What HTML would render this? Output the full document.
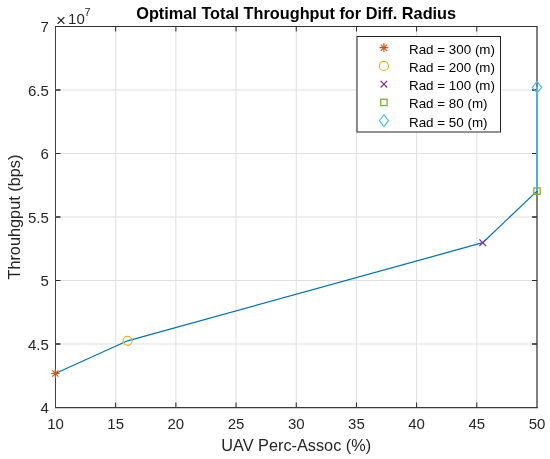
<!DOCTYPE html>
<html><head><meta charset="utf-8"><title>Optimal Total Throughput for Diff. Radius</title>
<style>
html,body{margin:0;padding:0;background:#fff;}
svg{display:block;}
text{font-family:"Liberation Sans",Arial,Helvetica,sans-serif;}
.tk{font-size:15px;fill:#262626;}
.sup{font-size:10.8px;}
.lg{font-size:13.4px;fill:#000;}
.lb{font-size:16.3px;fill:#262626;}
.tt{font-size:16.3px;font-weight:bold;fill:#000;}
</style></head>
<body>
<svg width="550" height="459" viewBox="0 0 550 459">
<rect width="550" height="459" fill="#fff"/>
<line x1="115.69" y1="26.5" x2="115.69" y2="407.5" stroke="#dfdfdf" stroke-width="1"/>
<line x1="175.88" y1="26.5" x2="175.88" y2="407.5" stroke="#dfdfdf" stroke-width="1"/>
<line x1="236.06" y1="26.5" x2="236.06" y2="407.5" stroke="#dfdfdf" stroke-width="1"/>
<line x1="296.25" y1="26.5" x2="296.25" y2="407.5" stroke="#dfdfdf" stroke-width="1"/>
<line x1="356.44" y1="26.5" x2="356.44" y2="407.5" stroke="#dfdfdf" stroke-width="1"/>
<line x1="416.62" y1="26.5" x2="416.62" y2="407.5" stroke="#dfdfdf" stroke-width="1"/>
<line x1="476.81" y1="26.5" x2="476.81" y2="407.5" stroke="#dfdfdf" stroke-width="1"/>
<line x1="55.5" y1="344.00" x2="537.0" y2="344.00" stroke="#dfdfdf" stroke-width="1"/>
<line x1="55.5" y1="280.50" x2="537.0" y2="280.50" stroke="#dfdfdf" stroke-width="1"/>
<line x1="55.5" y1="217.00" x2="537.0" y2="217.00" stroke="#dfdfdf" stroke-width="1"/>
<line x1="55.5" y1="153.50" x2="537.0" y2="153.50" stroke="#dfdfdf" stroke-width="1"/>
<line x1="55.5" y1="90.00" x2="537.0" y2="90.00" stroke="#dfdfdf" stroke-width="1"/>
<line x1="115.69" y1="407.5" x2="115.69" y2="402.5" stroke="#262626"/>
<line x1="115.69" y1="26.5" x2="115.69" y2="31.5" stroke="#262626"/>
<line x1="175.88" y1="407.5" x2="175.88" y2="402.5" stroke="#262626"/>
<line x1="175.88" y1="26.5" x2="175.88" y2="31.5" stroke="#262626"/>
<line x1="236.06" y1="407.5" x2="236.06" y2="402.5" stroke="#262626"/>
<line x1="236.06" y1="26.5" x2="236.06" y2="31.5" stroke="#262626"/>
<line x1="296.25" y1="407.5" x2="296.25" y2="402.5" stroke="#262626"/>
<line x1="296.25" y1="26.5" x2="296.25" y2="31.5" stroke="#262626"/>
<line x1="356.44" y1="407.5" x2="356.44" y2="402.5" stroke="#262626"/>
<line x1="356.44" y1="26.5" x2="356.44" y2="31.5" stroke="#262626"/>
<line x1="416.62" y1="407.5" x2="416.62" y2="402.5" stroke="#262626"/>
<line x1="416.62" y1="26.5" x2="416.62" y2="31.5" stroke="#262626"/>
<line x1="476.81" y1="407.5" x2="476.81" y2="402.5" stroke="#262626"/>
<line x1="476.81" y1="26.5" x2="476.81" y2="31.5" stroke="#262626"/>
<line x1="55.5" y1="344.00" x2="60.5" y2="344.00" stroke="#262626" stroke-width="1.5"/>
<line x1="537.0" y1="344.00" x2="532.0" y2="344.00" stroke="#262626" stroke-width="1.5"/>
<line x1="55.5" y1="280.50" x2="60.5" y2="280.50" stroke="#262626" stroke-width="1"/>
<line x1="537.0" y1="280.50" x2="532.0" y2="280.50" stroke="#262626" stroke-width="1"/>
<line x1="55.5" y1="217.00" x2="60.5" y2="217.00" stroke="#262626" stroke-width="1.5"/>
<line x1="537.0" y1="217.00" x2="532.0" y2="217.00" stroke="#262626" stroke-width="1.5"/>
<line x1="55.5" y1="153.50" x2="60.5" y2="153.50" stroke="#262626" stroke-width="1"/>
<line x1="537.0" y1="153.50" x2="532.0" y2="153.50" stroke="#262626" stroke-width="1"/>
<line x1="55.5" y1="90.00" x2="60.5" y2="90.00" stroke="#262626" stroke-width="1.5"/>
<line x1="537.0" y1="90.00" x2="532.0" y2="90.00" stroke="#262626" stroke-width="1.5"/>
<line x1="55.0" y1="26.5" x2="537.6" y2="26.5" stroke="#303030" stroke-width="1"/>
<line x1="55.5" y1="26.5" x2="55.5" y2="408.1" stroke="#444" stroke-width="1"/>
<line x1="55.0" y1="407.6" x2="537.6" y2="407.6" stroke="#3a3a3a" stroke-width="1.1"/>
<line x1="537.0" y1="26.5" x2="537.0" y2="408.1" stroke="#3a3a3a" stroke-width="1.3"/>
<line x1="537.0" y1="191.1" x2="537.0" y2="87.3" stroke="#fff" stroke-width="2"/>
<polyline points="55.3,373.5 127.6,340.8 482.7,242.7 537.0,191.1 537.0,87.3" stroke="#0072BD" stroke-width="1.25" fill="none" stroke-linejoin="round"/>
<path d="M50.9,373.5h8.8M55.3,369.1v8.8M52.188759999999995,370.38876L58.41124,376.61124M52.188759999999995,376.61124L58.41124,370.38876" stroke="#D95319" stroke-width="1.2" fill="none"/>
<circle cx="127.6" cy="340.8" r="4.5" stroke="#EDB120" stroke-width="1.2" fill="none"/>
<path d="M479.4,239.39999999999998L486.0,246.0M479.4,246.0L486.0,239.39999999999998" stroke="#7E2F8E" stroke-width="1.2" fill="none"/>
<rect x="533.8" y="187.9" width="6.4" height="6.4" stroke="#77AC30" stroke-width="1.2" fill="none"/>
<path d="M537.0,81.5L541.6,87.3L537.0,93.1L532.4,87.3Z" stroke="#4DBEEE" stroke-width="1.2" fill="none"/>
<rect x="357.0" y="36.5" width="143.5" height="95.5" fill="#fff" stroke="#262626" stroke-width="1"/>
<path d="M379.5,47.7h8.8M383.9,43.300000000000004v8.8M380.78875999999997,44.58876L387.01124,50.811240000000005M380.78875999999997,50.811240000000005L387.01124,44.58876" stroke="#D95319" stroke-width="1.2" fill="none"/>
<circle cx="383.9" cy="65.95" r="4.5" stroke="#EDB120" stroke-width="1.2" fill="none"/>
<path d="M380.59999999999997,80.9L387.2,87.5M380.59999999999997,87.5L387.2,80.9" stroke="#7E2F8E" stroke-width="1.2" fill="none"/>
<rect x="380.7" y="99.25" width="6.4" height="6.4" stroke="#77AC30" stroke-width="1.2" fill="none"/>
<path d="M383.9,114.9L388.5,120.7L383.9,126.5L379.29999999999995,120.7Z" stroke="#4DBEEE" stroke-width="1.2" fill="none"/>
<text x="409" y="53.50" class="lg">Rad = 300 (m)</text>
<text x="409" y="71.75" class="lg">Rad = 200 (m)</text>
<text x="409" y="90.00" class="lg">Rad = 100 (m)</text>
<text x="409" y="108.25" class="lg">Rad = 80 (m)</text>
<text x="409" y="126.50" class="lg">Rad = 50 (m)</text>
<text x="48.8" y="413.30" class="tk" text-anchor="end">4</text>
<text x="48.8" y="349.80" class="tk" text-anchor="end">4.5</text>
<text x="48.8" y="286.30" class="tk" text-anchor="end">5</text>
<text x="48.8" y="222.80" class="tk" text-anchor="end">5.5</text>
<text x="48.8" y="159.30" class="tk" text-anchor="end">6</text>
<text x="48.8" y="95.80" class="tk" text-anchor="end">6.5</text>
<text x="48.8" y="32.30" class="tk" text-anchor="end">7</text>
<text x="55.50" y="428.9" class="tk" text-anchor="middle">10</text>
<text x="115.69" y="428.9" class="tk" text-anchor="middle">15</text>
<text x="175.88" y="428.9" class="tk" text-anchor="middle">20</text>
<text x="236.06" y="428.9" class="tk" text-anchor="middle">25</text>
<text x="296.25" y="428.9" class="tk" text-anchor="middle">30</text>
<text x="356.44" y="428.9" class="tk" text-anchor="middle">35</text>
<text x="416.62" y="428.9" class="tk" text-anchor="middle">40</text>
<text x="476.81" y="428.9" class="tk" text-anchor="middle">45</text>
<text x="537.00" y="428.9" class="tk" text-anchor="middle">50</text>
<text x="55.9" y="25.6" class="tk" style="font-size:17px">&#215;</text><text x="68.1" y="23.6" class="tk">10</text><text x="84.6" y="16" class="tk sup">7</text>
<text x="296.2" y="450.6" class="lb" text-anchor="middle">UAV Perc-Assoc (%)</text>
<text transform="translate(19.8,217.1) rotate(-90)" x="0" y="0" class="lb" text-anchor="middle">Throuhgput (bps)</text>
<text x="296.2" y="19.0" class="tt" text-anchor="middle">Optimal Total Throughput for Diff. Radius</text>
</svg>
</body></html>
